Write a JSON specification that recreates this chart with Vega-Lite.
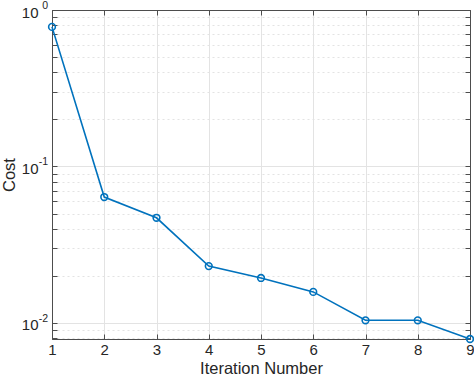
{
  "$schema": "https://vega.github.io/schema/vega-lite/v6.json",
  "width": 418,
  "height": 329,
  "autosize": {"type": "none"},
  "padding": {"left": 52, "top": 10, "right": 4, "bottom": 36},
  "background": "white",
  "config": {
    "view": {"stroke": "#4d4d4d", "strokeWidth": 1},
    "font": "Liberation Sans",
    "axis": {
      "labelFont": "Liberation Sans",
      "titleFont": "Liberation Sans",
      "labelColor": "#262626",
      "titleColor": "#262626",
      "domainColor": "#4d4d4d",
      "tickColor": "#4d4d4d",
      "titleFontWeight": "normal"
    }
  },
  "data": {
    "values": [
      {"iter": 1, "cost": 0.78},
      {"iter": 2, "cost": 0.0638},
      {"iter": 3, "cost": 0.047},
      {"iter": 4, "cost": 0.0231},
      {"iter": 5, "cost": 0.0194},
      {"iter": 6, "cost": 0.0158},
      {"iter": 7, "cost": 0.0104},
      {"iter": 8, "cost": 0.0104},
      {"iter": 9, "cost": 0.0079}
    ]
  },
  "layer": [
    {
      "mark": {"type": "line", "color": "#0072BD", "strokeWidth": 1.6, "clip": false,
        "point": {"filled": false, "stroke": "#0072BD", "fill": "white", "fillOpacity": 0, "size": 45, "strokeWidth": 1.6}},
      "encoding": {
        "x": {
          "field": "iter", "type": "quantitative",
          "scale": {"domain": [1, 9], "nice": false, "zero": false},
          "axis": {
            "title": "Iteration Number",
            "values": [1, 2, 3, 4, 5, 6, 7, 8, 9],
            "format": "d",
            "labelFontSize": 15,
            "titleFontSize": 16.5,
            "titlePadding": 3,
            "labelPadding": 8,
            "tickSize": -5,
            "gridColor": "#e3e3e3",
            "gridWidth": 1,
            "labelFlush": false
          }
        },
        "y": {
          "field": "cost", "type": "quantitative",
          "scale": {"type": "log", "domain": [0.0079, 1], "nice": false},
          "axis": {
            "title": "Cost",
            "values": [0.008, 0.009, 0.01, 0.02, 0.03, 0.04, 0.05, 0.06, 0.07, 0.08, 0.09, 0.1, 0.2, 0.3, 0.4, 0.5, 0.6, 0.7, 0.8, 0.9, 1],
            "labelExpr": "datum.value == 1 || abs(datum.value - 0.1) < 1e-9 || abs(datum.value - 0.01) < 1e-9 ? '10' : ''",
            "labelFontSize": 15,
            "labelOffset": 2,
            "titleFontSize": 16.5,
            "titlePadding": 4,
            "labelPadding": 19,
            "tickSize": -5,
            "gridColor": "#e3e3e3",
            "gridWidth": 1,
            "gridDash": {
              "condition": {"test": "datum.value == 1 || abs(datum.value - 0.1) < 1e-9 || abs(datum.value - 0.01) < 1e-9", "value": []},
              "value": [2, 3]
            },
            "labelFlush": false
          }
        }
      }
    },
    {
      "mark": {"type": "point", "opacity": 0},
      "encoding": {
        "x": {
          "field": "iter", "type": "quantitative",
          "axis": {"orient": "top", "title": null, "labels": false, "values": [1, 2, 3, 4, 5, 6, 7, 8, 9], "tickSize": -5, "grid": false}
        },
        "y": {
          "field": "cost", "type": "quantitative",
          "axis": {"orient": "right", "title": null, "labels": false,
            "values": [0.008, 0.009, 0.01, 0.02, 0.03, 0.04, 0.05, 0.06, 0.07, 0.08, 0.09, 0.1, 0.2, 0.3, 0.4, 0.5, 0.6, 0.7, 0.8, 0.9, 1],
            "tickSize": -5, "grid": false}
        }
      }
    },
    {
      "data": {"values": [{"decade": 1, "exponent": "0"}, {"decade": 0.1, "exponent": "-1"}, {"decade": 0.01, "exponent": "-2"}]},
      "mark": {"type": "text", "align": "right", "baseline": "middle", "dx": -4, "dy": -4, "fontSize": 10.5, "font": "Liberation Sans", "color": "#262626", "clip": false},
      "encoding": {
        "x": {"datum": 1, "type": "quantitative", "axis": null},
        "y": {"field": "decade", "type": "quantitative", "axis": null},
        "text": {"field": "exponent"}
      }
    }
  ],
  "resolve": {"axis": {"x": "independent", "y": "independent"}}
}
